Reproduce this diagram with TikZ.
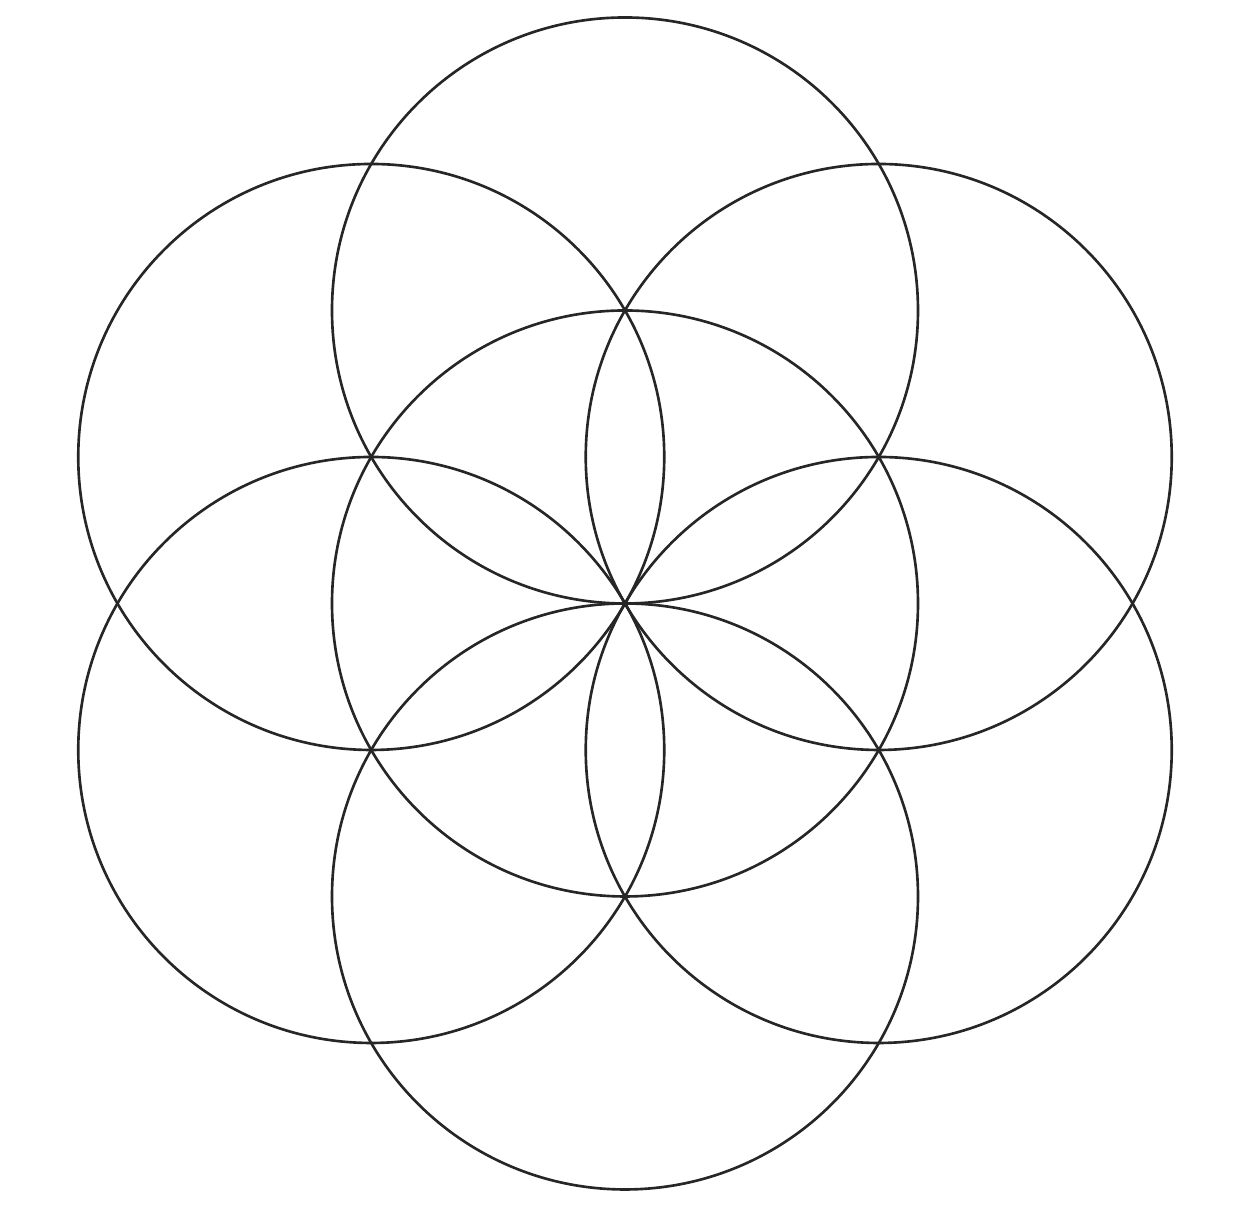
\documentclass[tikz,border=0pt]{standalone}
\usepackage{tikz}
\usetikzlibrary{calc}

\begin{document}
\begin{tikzpicture}
\useasboundingbox (0,0) rectangle (12.6,12.1);
% Centre of the pattern
\coordinate (c0) at (6.25,6.065);
% Define the six outer centres
\foreach \a [count=\i] in {90,30,-30,-90,-150,150}
    \coordinate (c\i) at ($(c0)+(\a:2.93)$);
% Draw the circles
\foreach \i in {0,...,6}
    \draw[line width=0.75pt, black!85] (c\i) circle (2.93);
\end{tikzpicture}
\end{document}
